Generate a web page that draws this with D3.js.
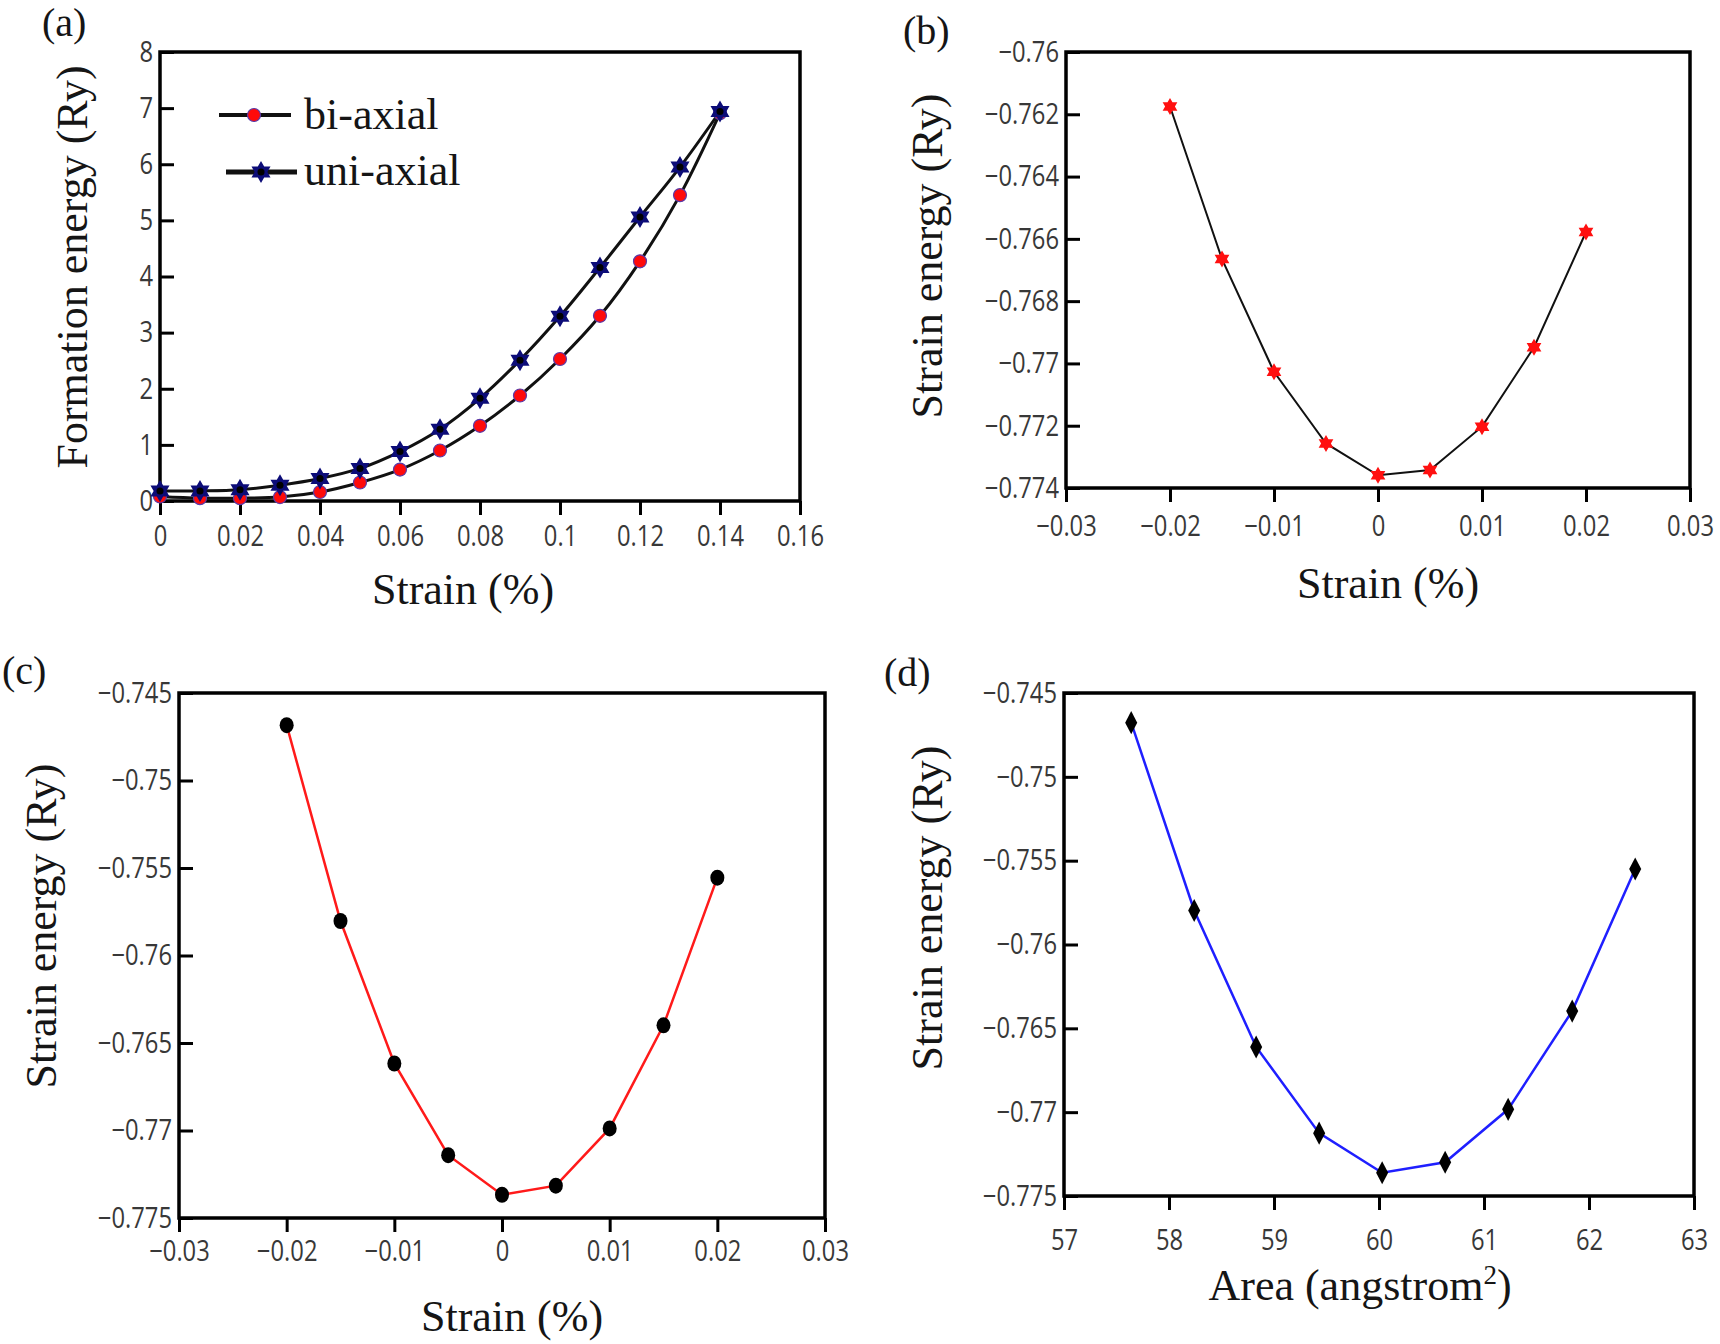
<head>
    <meta charset="utf-8" />
    <script src="https://d3js.org/d3.v7.min.js"></script>
</head>
<style>
    body { margin: 0; background: #fff; }
    .tick text { font-family: "Open Sans", sans-serif; font-size: 29px; fill: #383838;
                 transform-box: fill-box; }
    .xaxis .tick text { transform-origin: center; transform: scaleX(0.82); }
    .yaxis .tick text { transform-origin: right center; transform: scaleX(0.82); }
    .title { font-family: "Liberation Serif", serif; font-size: 44px; fill: #151515; }
    .plabel { font-family: "Liberation Serif", serif; font-size: 40px; fill: #151515; }
</style>
<body>

</body>
<script>
// (a) formation energy vs strain
const strainA = [0, 0.01, 0.02, 0.03, 0.04, 0.05, 0.06, 0.07, 0.08, 0.09, 0.1, 0.11, 0.12, 0.13, 0.14];
const biAxial = [0.08, 0.05, 0.05, 0.07, 0.16, 0.33, 0.56, 0.9, 1.34, 1.88, 2.53, 3.3, 4.27, 5.45, 6.91];
const uniAxial = [0.18, 0.18, 0.2, 0.28, 0.4, 0.58, 0.88, 1.28, 1.83, 2.51, 3.29, 4.16, 5.06, 5.95, 6.94];
const ticksAx = [0, 0.02, 0.04, 0.06, 0.08, 0.1, 0.12, 0.14, 0.16];
const ticksAy = [0, 1, 2, 3, 4, 5, 6, 7, 8];

// (b) strain energy vs strain
const strainB = [-0.02, -0.015, -0.01, -0.005, 0, 0.005, 0.01, 0.015, 0.02];
const energyB = [-0.76175, -0.76665, -0.77027, -0.77257, -0.77359, -0.77342, -0.77203, -0.76948, -0.76578];
const ticksBx = [-0.03, -0.02, -0.01, 0, 0.01, 0.02, 0.03];
const ticksBy = [-0.76, -0.762, -0.764, -0.766, -0.768, -0.77, -0.772, -0.774];

// (c) strain energy vs strain
const strainC = [-0.02, -0.015, -0.01, -0.005, 0, 0.005, 0.01, 0.015, 0.02];
const energyC = [-0.74684, -0.75803, -0.76617, -0.77141, -0.77367, -0.77315, -0.76988, -0.76399, -0.75555];
const ticksCx = [-0.03, -0.02, -0.01, 0, 0.01, 0.02, 0.03];
const ticksCy = [-0.745, -0.75, -0.755, -0.76, -0.765, -0.77, -0.775];

// (d) strain energy vs area
const areaD = [57.64, 58.24, 58.83, 59.43, 60.03, 60.63, 61.23, 61.84, 62.44];
const energyD = [-0.74677, -0.75797, -0.76611, -0.77125, -0.77361, -0.77299, -0.76983, -0.76397, -0.7555];
const ticksDx = [57, 58, 59, 60, 61, 62, 63];
const ticksDy = [-0.745, -0.75, -0.755, -0.76, -0.765, -0.77, -0.775];

var fmt = d => String(+d.toFixed(4)).replace("-", "\u2212");

var svg = d3.select("body").append("svg")
    .attr("width", 1720)
    .attr("height", 1344);

svg.append("rect").attr("width", 1720).attr("height", 1344).attr("fill", "#fff");

function makePanel(p) {
    var x = d3.scaleLinear().domain(p.xDomain).range([p.left, p.right]);
    var y = d3.scaleLinear().domain(p.yDomain).range([p.bottom, p.top]);
    var g = svg.append("g");

    g.append("g")
        .attr("class", "xaxis")
        .attr("transform", `translate(0,${p.bottom})`)
        .call(d3.axisBottom(x).tickValues(p.xTicks).tickSizeInner(14).tickSizeOuter(0)
            .tickPadding(p.xPad).tickFormat(fmt));
    g.append("g")
        .attr("class", "yaxis")
        .attr("transform", `translate(${p.left},0)`)
        .call(d3.axisLeft(y).tickValues(p.yTicks).tickSizeInner(-14).tickSizeOuter(0)
            .tickPadding(7).tickFormat(fmt));
    g.selectAll(".tick line").attr("stroke", "#000").attr("stroke-width", 3);
    g.selectAll(".domain").attr("stroke", "none");

    // frame
    g.append("rect")
        .attr("x", p.left).attr("y", p.top)
        .attr("width", p.right - p.left).attr("height", p.bottom - p.top)
        .attr("fill", "none").attr("stroke", "#000").attr("stroke-width", 3.5);

    // panel letter
    g.append("text").attr("class", "plabel")
        .attr("x", p.label[1]).attr("y", p.label[2])
        .text(p.label[0]);

    // y title
    g.append("text").attr("class", "title")
        .attr("text-anchor", "middle")
        .attr("transform", `translate(${p.yTitle[0]},${p.yTitle[1]}) rotate(-90)`)
        .text("Strain energy (Ry)");

    return {g: g, x: x, y: y};
}

function hexagram(R) {
    var pts = [];
    for (var i = 0; i < 12; i++) {
        var r = i % 2 === 0 ? R : R / Math.sqrt(3);
        var a = -Math.PI / 2 + i * Math.PI / 6;
        pts.push([r * Math.cos(a), r * Math.sin(a)]);
    }
    return "M" + pts.map(d => d.join(",")).join("L") + "Z";
}

// ---------- (a)
var A = makePanel({
    left: 160, right: 800, top: 52, bottom: 501,
    xDomain: [0, 0.16], yDomain: [0, 8], xTicks: ticksAx, yTicks: ticksAy, xPad: 10,
    label: ["(a)", 42, 36], yTitle: [87, 267]
});
A.g.select(".title").text("Formation energy (Ry)");
A.g.append("text").attr("class", "title").attr("text-anchor", "middle")
    .attr("x", 463).attr("y", 604).text("Strain (%)");

var dataBi = strainA.map((s, i) => ({x: s, y: biAxial[i]}));
var dataUni = strainA.map((s, i) => ({x: s, y: uniAxial[i]}));
var lineA = d3.line().x(d => A.x(d.x)).y(d => A.y(d.y)).curve(d3.curveCatmullRom.alpha(0.5));

A.g.append("path").datum(dataBi).attr("d", lineA)
    .attr("fill", "none").attr("stroke", "#111").attr("stroke-width", 3);
A.g.append("path").datum(dataUni).attr("d", lineA)
    .attr("fill", "none").attr("stroke", "#111").attr("stroke-width", 3);

A.g.selectAll(".bi").data(dataBi).enter().append("circle")
    .attr("cx", d => A.x(d.x)).attr("cy", d => A.y(d.y)).attr("r", 6.5)
    .attr("fill", "#ff0a0a").attr("stroke", "#5a3aa8").attr("stroke-width", 1.2);
A.g.selectAll(".uni").data(dataUni).enter().append("path")
    .attr("d", hexagram(11))
    .attr("transform", d => `translate(${A.x(d.x)},${A.y(d.y)})`)
    .attr("fill", "#0c0c78");
A.g.selectAll(".unic").data(dataUni).enter().append("circle")
    .attr("cx", d => A.x(d.x)).attr("cy", d => A.y(d.y)).attr("r", 3.5)
    .attr("fill", "#000");

// legend
var leg = A.g.append("g");
leg.append("line").attr("x1", 219).attr("x2", 291).attr("y1", 115).attr("y2", 115)
    .attr("stroke", "#111").attr("stroke-width", 4);
leg.append("circle").attr("cx", 254).attr("cy", 115).attr("r", 6.5)
    .attr("fill", "#ff0a0a").attr("stroke", "#5a3aa8").attr("stroke-width", 1.2);
leg.append("text").attr("class", "title").attr("x", 304).attr("y", 129).text("bi-axial");
leg.append("line").attr("x1", 226).attr("x2", 297).attr("y1", 172).attr("y2", 172)
    .attr("stroke", "#111").attr("stroke-width", 5);
leg.append("path").attr("d", hexagram(11)).attr("transform", "translate(261,172)").attr("fill", "#0c0c78");
leg.append("circle").attr("cx", 261).attr("cy", 172).attr("r", 3.5).attr("fill", "#000");
leg.append("text").attr("class", "title").attr("x", 304).attr("y", 185).text("uni-axial");

// ---------- (b)
var B = makePanel({
    left: 1066, right: 1690, top: 52, bottom: 488,
    xDomain: [-0.03, 0.03], yDomain: [-0.774, -0.76], xTicks: ticksBx, yTicks: ticksBy, xPad: 13,
    label: ["(b)", 903, 44], yTitle: [942, 256]
});
B.g.append("text").attr("class", "title").attr("text-anchor", "middle")
    .attr("x", 1388).attr("y", 598).text("Strain (%)");
var dataB = strainB.map((s, i) => ({x: s, y: energyB[i]}));
B.g.append("path").datum(dataB)
    .attr("d", d3.line().x(d => B.x(d.x)).y(d => B.y(d.y)))
    .attr("fill", "none").attr("stroke", "#111").attr("stroke-width", 2);
B.g.selectAll(".m").data(dataB).enter().append("path")
    .attr("d", hexagram(8.5))
    .attr("transform", d => `translate(${B.x(d.x)},${B.y(d.y)})`)
    .attr("fill", "#ff1010");

// ---------- (c)
var C = makePanel({
    left: 179, right: 825, top: 693, bottom: 1218,
    xDomain: [-0.03, 0.03], yDomain: [-0.775, -0.745], xTicks: ticksCx, yTicks: ticksCy, xPad: 8,
    label: ["(c)", 2, 684], yTitle: [56, 926]
});
C.g.append("text").attr("class", "title").attr("text-anchor", "middle")
    .attr("x", 512).attr("y", 1331).text("Strain (%)");
var dataC = strainC.map((s, i) => ({x: s, y: energyC[i]}));
C.g.append("path").datum(dataC)
    .attr("d", d3.line().x(d => C.x(d.x)).y(d => C.y(d.y)))
    .attr("fill", "none").attr("stroke", "#ff1a1a").attr("stroke-width", 2.5);
C.g.selectAll(".m").data(dataC).enter().append("ellipse")
    .attr("cx", d => C.x(d.x)).attr("cy", d => C.y(d.y)).attr("rx", 7).attr("ry", 8)
    .attr("fill", "#000");

// ---------- (d)
var D = makePanel({
    left: 1064, right: 1694, top: 693, bottom: 1196,
    xDomain: [57, 63], yDomain: [-0.775, -0.745], xTicks: ticksDx, yTicks: ticksDy, xPad: 19,
    label: ["(d)", 884, 686], yTitle: [942, 908]
});
var tD = D.g.append("text").attr("class", "title").attr("text-anchor", "middle")
    .attr("x", 1360).attr("y", 1300);
tD.append("tspan").text("Area (angstrom");
tD.append("tspan").attr("font-size", "27px").attr("dy", -16).text("2");
tD.append("tspan").attr("dy", 16).text(")");
var dataD = areaD.map((s, i) => ({x: s, y: energyD[i]}));
D.g.append("path").datum(dataD)
    .attr("d", d3.line().x(d => D.x(d.x)).y(d => D.y(d.y)))
    .attr("fill", "none").attr("stroke", "#1f1fff").attr("stroke-width", 2.5);
D.g.selectAll(".m").data(dataD).enter().append("path")
    .attr("d", d3.symbol(d3.symbolDiamond, 140))
    .attr("transform", d => `translate(${D.x(d.x)},${D.y(d.y)}) scale(0.95,1.05)`)
    .attr("fill", "#000");
</script>
